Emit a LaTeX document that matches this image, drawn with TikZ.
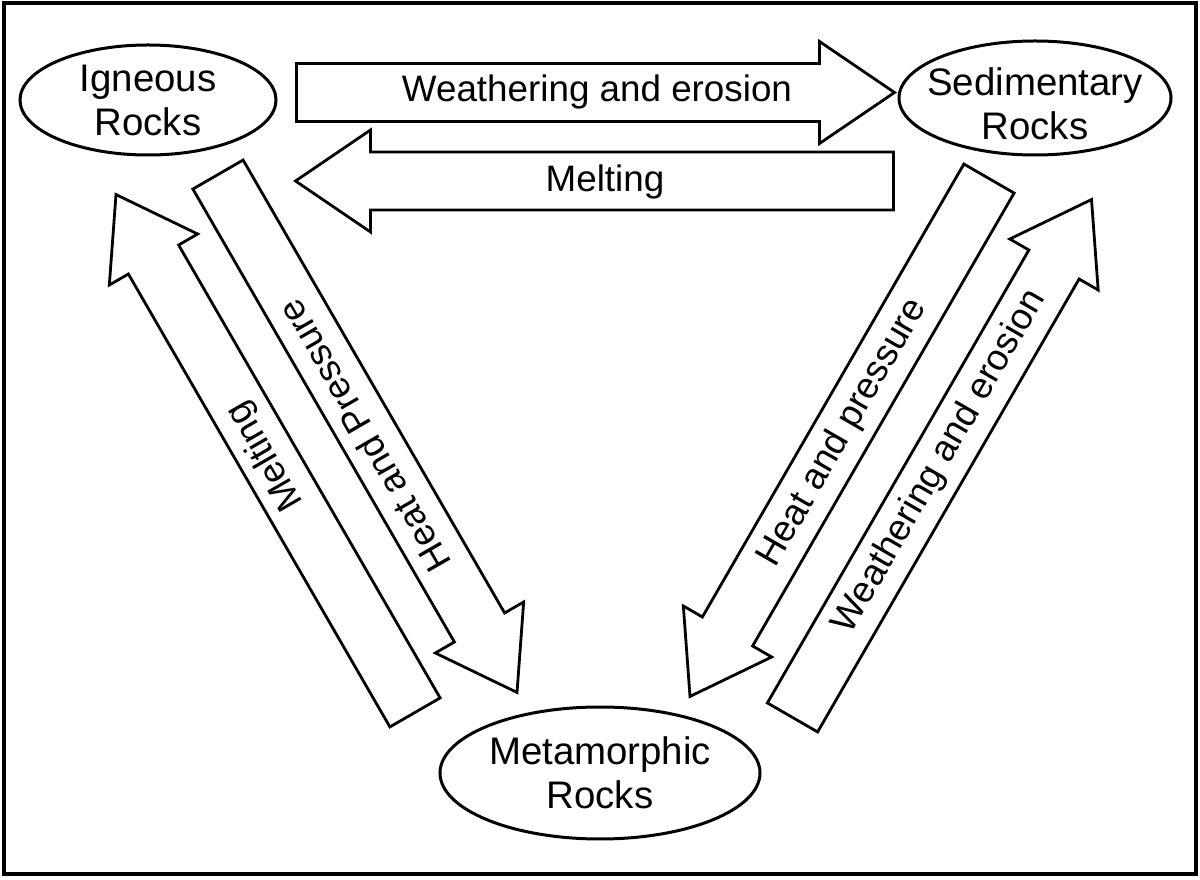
\documentclass[tikz,border=0pt]{standalone}
\usepackage{fontspec}
\setmainfont{Liberation Sans}
\tikzset{
	frame/.style={line width=1.8pt},
	rockline/.style={line width=1.5pt},
	rocktext/.style={
		inner sep=0pt, align=center,
		font={\fontsize{19.2}{22}\selectfont}
	},
	flowtext/.style={inner sep=0pt, font={\fontsize{18.4}{22}\selectfont}},
	rockarrow/.pic={
		\draw[line width=1.4pt, line join=miter] (-299,-29) -- (224,-29) -- (224,-51) -- (299,0)
			-- (224,51) -- (224,29) -- (-299,29) -- cycle;
	},
}

\begin{document}
\begin{tikzpicture}[x=0.5pt, y=0.5pt]
\useasboundingbox (0,0) rectangle (1200,879);
\draw[frame] (4,5) rectangle (1196,876);

% the three kinds of rock
\node[rocktext] (igneous) at (148,779) {Igneous\\Rocks};
\node[rocktext] (sedimentary) at (1035,775) {Sedimentary\\Rocks};
\node[rocktext] (metamorphic) at (600,106) {Metamorphic\\Rocks};
\draw[rockline] (148,779) ellipse [x radius=64pt, y radius=27.5pt];
\draw[rockline] (1035,781) ellipse [x radius=68pt, y radius=28.5pt];
\draw[rockline] (600,106) ellipse [x radius=80pt, y radius=33pt];

% top pair
\pic[rotate=0] at (595.5,786.5) {rockarrow};
\node[flowtext] (weather1) at (597,787) {Weathering and erosion};
\pic[rotate=180] at (594.5,698) {rockarrow};
\node[flowtext] (melt1) at (605,697) {Melting};

% left pair
\pic[rotate=120] at (265.5,425.5) {rockarrow};
\node[flowtext, rotate=120] (melt2) at (266,423) {Melting};
\pic[rotate=-60] at (367.5,445.5) {rockarrow};
\node[flowtext, rotate=120] (heat1) at (364,443) {Heat and Pressure};

% right pair
\pic[rotate=-120] at (839.5,441.5) {rockarrow};
\node[flowtext, rotate=60] (heat2) at (843,446) {Heat and pressure};
\pic[rotate=60] at (942,420.5) {rockarrow};
\node[flowtext, rotate=60] (weather2) at (940,417) {Weathering and erosion};
\end{tikzpicture}
\end{document}
